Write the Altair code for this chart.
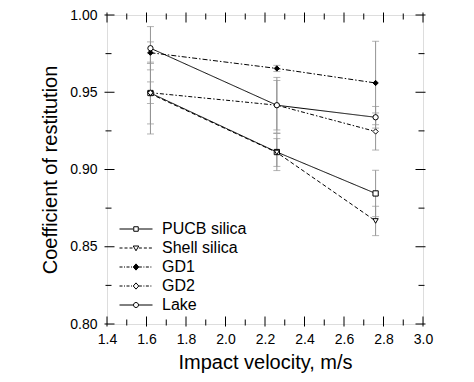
import altair as alt
import pandas as pd

# ---------------- data ----------------
velocity = [1.62, 2.26, 2.76]
series_names = ["PUCB silica", "Shell silica", "GD1", "GD2", "Lake"]

pucb = [0.9495, 0.9113, 0.8845]
pucb_err = [0.020, 0.012, 0.015]
shell = [0.949, 0.911, 0.8667]
shell_err = [0.026, 0.009, 0.0095]
gd1 = [0.9756, 0.9654, 0.956]
gd1_err = [0.007, 0.002, 0.027]
gd2 = [0.9497, 0.9416, 0.9246]
gd2_err = [0.007, 0.016, 0.012]
lake = [0.9785, 0.9416, 0.9338]
lake_err = [0.014, 0.018, 0.007]

x_ticks = [1.4, 1.6, 1.8, 2.0, 2.2, 2.4, 2.6, 2.8, 3.0]
x_minor = [1.5, 1.7, 1.9, 2.1, 2.3, 2.5, 2.7, 2.9]
y_ticks = [0.80, 0.85, 0.90, 0.95, 1.00]
y_minor = [0.825, 0.875, 0.925, 0.975]
x_range = [1.4, 3.0]
y_range = [0.80, 1.00]

values = [pucb, shell, gd1, gd2, lake]
errors = [pucb_err, shell_err, gd1_err, gd2_err, lake_err]

# ---------------- styles ----------------
F = "Liberation Sans"
W, H = 316, 309
MAJ, MIN = 5, 3
marker_shapes = ["square", "triangle-down", "diamond", "diamond", "circle"]
marker_fills = ["white", "white", "black", "white", "white"]
line_dashes = [[1, 0], [4, 2.5], [5, 2, 1.5, 2], [4, 2, 1.5, 2], [1, 0]]
ERR = "#939393"

rows = []
for name, vals, errs in zip(series_names, values, errors):
    for v, c, e in zip(velocity, vals, errs):
        rows.append({"series": name, "v": v, "c": c, "lo": c - e, "hi": c + e})
df = pd.DataFrame(rows)

xs = alt.Scale(domain=x_range, nice=False, zero=False)
ys = alt.Scale(domain=y_range, nice=False, zero=False)


def X(field="v"):
    return alt.X(f"{field}:Q", scale=xs, axis=None, title=None)


def Y(field="c"):
    return alt.Y(f"{field}:Q", scale=ys, axis=None, title=None)


# labelled axes
axis_lab = alt.Chart(df).mark_point(opacity=0).encode(
    x=alt.X("v:Q", scale=xs, title="Impact velocity, m/s",
            axis=alt.Axis(orient="bottom", values=x_ticks, format=".1f",
                          ticks=False, domain=False, grid=False, labelFont=F,
                          labelFontSize=14, labelPadding=8, labelColor="black",
                          labelFlush=False, titleFont=F, titleFontSize=20,
                          titleFontWeight="normal", titleColor="black", titlePadding=6)),
    y=alt.Y("c:Q", scale=ys, title="Coefficient of restitution",
            axis=alt.Axis(orient="left", values=y_ticks, format=".2f",
                          ticks=False, domain=False, grid=False, labelFont=F,
                          labelFontSize=14, labelPadding=10, labelColor="black",
                          labelFlush=False, titleFont=F, titleFontSize=20,
                          titleFontWeight="normal", titleColor="black", titlePadding=9)),
)

# error bars
err_rule = alt.Chart(df).mark_rule(color=ERR, strokeWidth=1).encode(
    x=X(), y=Y("lo"), y2="hi:Q")
cap_lo = alt.Chart(df).mark_tick(orient="horizontal", color=ERR, size=7, thickness=1).encode(
    x=X(), y=Y("lo"))
cap_hi = alt.Chart(df).mark_tick(orient="horizontal", color=ERR, size=7, thickness=1).encode(
    x=X(), y=Y("hi"))

layers = [axis_lab, err_rule, cap_lo, cap_hi]

for name, dash in zip(series_names, line_dashes):
    layers.append(
        alt.Chart(df).transform_filter(alt.datum.series == name)
        .mark_line(color="black", strokeWidth=1, strokeDash=dash)
        .encode(x=X(), y=Y())
    )
for name, shp, fl in zip(series_names, marker_shapes, marker_fills):
    layers.append(
        alt.Chart(df).transform_filter(alt.datum.series == name)
        .mark_point(shape=shp, filled=True, fill=fl, stroke="black", strokeWidth=1,
                    size=28, opacity=1)
        .encode(x=X(), y=Y())
    )

# ---------------- inward tick marks on all four sides ----------------
for vals, ln in [(x_ticks, MAJ), (x_minor, MIN)]:
    for edge, sgn in [(y_range[0], -1), (y_range[1], 1)]:
        tdf = pd.DataFrame({"t": vals, "e": [edge] * len(vals)})
        layers.append(
            alt.Chart(tdf).mark_tick(orient="vertical", color="black", size=2 * ln,
                                     thickness=1, opacity=1, yOffset=sgn * ln / 2).encode(
                x=alt.X("t:Q", scale=xs, axis=None),
                y=alt.Y("e:Q", scale=ys, axis=None))
        )
for vals, ln in [(y_ticks, MAJ), (y_minor, MIN)]:
    for edge, sgn in [(x_range[0], 1), (x_range[1], -1)]:
        tdf = pd.DataFrame({"t": vals, "e": [edge] * len(vals)})
        layers.append(
            alt.Chart(tdf).mark_tick(orient="horizontal", color="black", size=2 * ln,
                                     thickness=1, opacity=1, xOffset=sgn * ln / 2).encode(
                y=alt.Y("t:Q", scale=ys, axis=None),
                x=alt.X("e:Q", scale=xs, axis=None))
        )

# ---------------- legend (line + marker symbols as custom paths) ----------------
U = 2.5           # px per path unit for symbolSize 25
HALF = 16.5 / U   # half line length in units
GAP = 1.15


def seg_path(pattern_px):
    if pattern_px is None:
        return f"M{-HALF:.2f},0H{-GAP:.2f}M{GAP:.2f},0H{HALF:.2f}"
    pat = [p / U for p in pattern_px]
    out = []
    for start, end in [(-HALF, -GAP), (GAP, HALF)]:
        pos, i, on = start, 0, True
        while pos < end:
            ln = pat[i % len(pat)]
            nxt = min(pos + ln, end)
            if on:
                out.append(f"M{pos:.2f},0H{nxt:.2f}")
            pos = nxt
            i += 1
            on = not on
    return "".join(out)


marker_paths = [
    "M-0.9,-0.9H0.9V0.9H-0.9Z",
    "M-1.1,-0.8H1.1L0,1.1Z",
    "M0,-1.25L1.1,0L0,1.25L-1.1,0Z",
    "M0,-1.25L1.1,0L0,1.25L-1.1,0Z",
    "M1,0A1,1 0 1,1 -1,0A1,1 0 1,1 1,0Z",
]
legend_dash_px = [None, [3, 2], [3, 1.5, 1, 1.5], [3, 1.5, 1, 1.5], None]
legend_paths = [seg_path(d) + m for d, m in zip(legend_dash_px, marker_paths)]

leg_props = dict(orient="none", legendX=21, legendY=206, title=None, symbolSize=25,
                 labelFont=F, labelFontSize=16, labelColor="black", labelOffset=18,
                 rowPadding=3, padding=0, symbolStrokeColor="black", symbolStrokeWidth=1)

legend_layer = (
    alt.Chart(pd.DataFrame({"series": series_names}))
    .transform_filter("false")
    .mark_point(filled=True, strokeWidth=1, opacity=1)
    .encode(
        shape=alt.Shape("series:N", sort=series_names,
                        scale=alt.Scale(domain=series_names, range=legend_paths),
                        legend=alt.Legend(**leg_props)),
        fill=alt.Fill("series:N", sort=series_names,
                      scale=alt.Scale(domain=series_names, range=marker_fills),
                      legend=alt.Legend(**leg_props)),
        stroke=alt.Stroke("series:N", sort=series_names,
                          scale=alt.Scale(domain=series_names, range=["black"] * 5),
                          legend=alt.Legend(**leg_props)),
    )
)
layers.append(legend_layer)

chart = (
    alt.layer(*layers)
    .resolve_axis(x="independent", y="independent")
    .properties(width=W, height=H, autosize=alt.AutoSizeParams(type="none"),
                padding={"left": 99, "top": 7, "right": 43, "bottom": 50})
    .configure_view(stroke="black", strokeWidth=1)
    .configure(background="white")
)

chart.save("out.html", embed_options={"renderer": "svg", "actions": False})
